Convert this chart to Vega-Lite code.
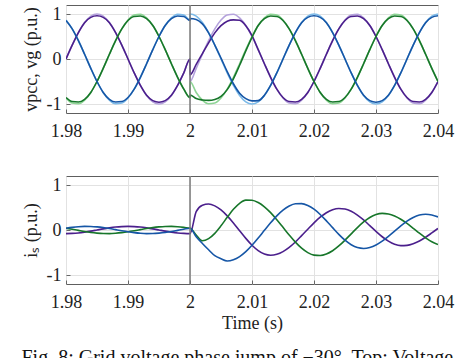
{
"$schema": "https://vega.github.io/schema/vega-lite/v6.json",
"padding": {"left": 21, "top": 3, "right": 0, "bottom": 0},
"background": "white",
"config": {
 "view": {"stroke": "#5e5e5e", "strokeWidth": 1},
 "font": "Liberation Serif",
 "axis": {"labelFont": "Liberation Serif", "labelFontSize": 18, "labelColor": "#222", "labelFlush": false, "titleFont": "Liberation Serif", "titleFontSize": 18, "titleFontWeight": "normal", "titleColor": "#222", "domain": false, "grid": true, "gridColor": "#e2e2e2", "tickColor": "#666", "tickSize": -4}
},
"datasets": {"w": [
{"t":1.980,"o":0,"ga":0,"gb":-0.866,"gc":0.866,"pa":0,"pb":-0.855,"pc":0.855,"ia":-0.08,"ib":0.04,"ic":0.04},
{"t":1.981,"o":1,"ga":0.309,"gb":-0.978,"gc":0.669,"pa":0.309,"pb":-0.945,"pc":0.669,"ia":-0.076,"ib":0.017,"ic":0.059},
{"t":1.982,"o":2,"ga":0.588,"gb":-0.995,"gc":0.407,"pa":0.588,"pb":-0.955,"pc":0.407,"ia":-0.065,"ib":-0.008,"ic":0.073},
{"t":1.983,"o":3,"ga":0.809,"gb":-0.914,"gc":0.105,"pa":0.807,"pb":-0.895,"pc":0.105,"ia":-0.047,"ib":-0.033,"ic":0.08},
{"t":1.984,"o":4,"ga":0.951,"gb":-0.743,"gc":-0.208,"pa":0.925,"pb":-0.743,"pc":-0.208,"ia":-0.025,"ib":-0.054,"ic":0.078},
{"t":1.985,"o":5,"ga":1,"gb":-0.5,"gc":-0.5,"pa":0.96,"pb":-0.5,"pc":-0.5,"ia":0,"ib":-0.069,"ic":0.069},
{"t":1.986,"o":6,"ga":0.951,"gb":-0.208,"gc":-0.743,"pa":0.925,"pb":-0.208,"pc":-0.743,"ia":0.025,"ib":-0.078,"ic":0.054},
{"t":1.987,"o":7,"ga":0.809,"gb":0.105,"gc":-0.914,"pa":0.807,"pb":0.105,"pc":-0.895,"ia":0.047,"ib":-0.08,"ic":0.033},
{"t":1.988,"o":8,"ga":0.588,"gb":0.407,"gc":-0.995,"pa":0.588,"pb":0.407,"pc":-0.955,"ia":0.065,"ib":-0.073,"ic":0.008},
{"t":1.989,"o":9,"ga":0.309,"gb":0.669,"gc":-0.978,"pa":0.309,"pb":0.669,"pc":-0.945,"ia":0.076,"ib":-0.059,"ic":-0.017},
{"t":1.990,"o":10,"ga":0,"gb":0.866,"gc":-0.866,"pa":0,"pb":0.855,"pc":-0.855,"ia":0.08,"ib":-0.04,"ic":-0.04},
{"t":1.991,"o":11,"ga":-0.309,"gb":0.978,"gc":-0.669,"pa":-0.309,"pb":0.945,"pc":-0.669,"ia":0.076,"ib":-0.017,"ic":-0.059},
{"t":1.992,"o":12,"ga":-0.588,"gb":0.995,"gc":-0.407,"pa":-0.588,"pb":0.955,"pc":-0.407,"ia":0.065,"ib":0.008,"ic":-0.073},
{"t":1.993,"o":13,"ga":-0.809,"gb":0.914,"gc":-0.105,"pa":-0.807,"pb":0.895,"pc":-0.105,"ia":0.047,"ib":0.033,"ic":-0.08},
{"t":1.994,"o":14,"ga":-0.951,"gb":0.743,"gc":0.208,"pa":-0.925,"pb":0.743,"pc":0.208,"ia":0.025,"ib":0.054,"ic":-0.078},
{"t":1.995,"o":15,"ga":-1,"gb":0.5,"gc":0.5,"pa":-0.96,"pb":0.5,"pc":0.5,"ia":0,"ib":0.069,"ic":-0.069},
{"t":1.996,"o":16,"ga":-0.951,"gb":0.208,"gc":0.743,"pa":-0.925,"pb":0.208,"pc":0.743,"ia":-0.025,"ib":0.078,"ic":-0.054},
{"t":1.997,"o":17,"ga":-0.809,"gb":-0.105,"gc":0.914,"pa":-0.807,"pb":-0.105,"pc":0.895,"ia":-0.047,"ib":0.08,"ic":-0.033},
{"t":1.998,"o":18,"ga":-0.588,"gb":-0.407,"gc":0.995,"pa":-0.588,"pb":-0.407,"pc":0.955,"ia":-0.065,"ib":0.073,"ic":-0.008},
{"t":1.999,"o":19,"ga":-0.309,"gb":-0.669,"gc":0.978,"pa":-0.309,"pb":-0.669,"pc":0.945,"ia":-0.076,"ib":0.059,"ic":0.017},
{"t":2.000,"o":20,"ga":0,"gb":-0.866,"gc":0.866,"pa":0,"pb":-0.855,"pc":0.855,"ia":-0.08,"ib":0.04,"ic":0.04},
{"t":2.00001,"o":21,"ga":-0.5,"gb":-0.5,"gc":1,"pa":-0.35,"pb":-0.8,"pc":0.9,"ia":-0.08,"ib":0.04,"ic":0.04},
{"t":2.001,"o":22,"ga":-0.208,"gb":-0.743,"gc":0.951,"pa":-0.12,"pb":-0.88,"pc":0.88,"ia":0.41,"ib":-0.111,"ic":-0.15},
{"t":2.002,"o":23,"ga":0.105,"gb":-0.914,"gc":0.809,"pa":0.12,"pb":-0.91,"pc":0.78,"ia":0.55,"ib":-0.24,"ic":-0.30},
{"t":2.003,"o":24,"ga":0.407,"gb":-0.995,"gc":0.588,"pa":0.36,"pb":-0.92,"pc":0.58,"ia":0.578,"ib":-0.193,"ic":-0.44},
{"t":2.004,"o":25,"ga":0.669,"gb":-0.978,"gc":0.309,"pa":0.58,"pb":-0.9,"pc":0.31,"ia":0.536,"ib":-0.075,"ic":-0.57},
{"t":2.005,"o":26,"ga":0.866,"gb":-0.866,"gc":0,"pa":0.74,"pb":-0.83,"pc":0.02,"ia":0.446,"ib":0.093,"ic":-0.64},
{"t":2.006,"o":27,"ga":0.978,"gb":-0.669,"gc":-0.309,"pa":0.84,"pb":-0.68,"pc":-0.28,"ia":0.314,"ib":0.281,"ic":-0.69},
{"t":2.007,"o":28,"ga":0.995,"gb":-0.407,"gc":-0.588,"pa":0.87,"pb":-0.44,"pc":-0.55,"ia":0.157,"ib":0.459,"ic":-0.662},
{"t":2.008,"o":29,"ga":0.914,"gb":-0.105,"gc":-0.809,"pa":0.86,"pb":-0.14,"pc":-0.76,"ia":-0.016,"ib":0.594,"ic":-0.591},
{"t":2.009,"o":30,"ga":0.743,"gb":0.208,"gc":-0.951,"pa":0.74,"pb":0.18,"pc":-0.88,"ia":-0.186,"ib":0.664,"ic":-0.481},
{"t":2.010,"o":31,"ga":0.5,"gb":0.5,"gc":-1,"pa":0.52,"pb":0.48,"pc":-0.93,"ia":-0.338,"ib":0.661,"ic":-0.339},
{"t":2.011,"o":32,"ga":0.208,"gb":0.743,"gc":-0.951,"pa":0.208,"pb":0.743,"pc":-0.925,"ia":-0.457,"ib":0.61,"ic":-0.178},
{"t":2.012,"o":33,"ga":-0.105,"gb":0.914,"gc":-0.809,"pa":-0.105,"pb":0.895,"pc":-0.807,"ia":-0.534,"ib":0.515,"ic":-0.008},
{"t":2.013,"o":34,"ga":-0.407,"gb":0.995,"gc":-0.588,"pa":-0.407,"pb":0.955,"pc":-0.588,"ia":-0.56,"ib":0.385,"ic":0.16},
{"t":2.014,"o":35,"ga":-0.669,"gb":0.978,"gc":-0.309,"pa":-0.669,"pb":0.945,"pc":-0.309,"ia":-0.54,"ib":0.228,"ic":0.314},
{"t":2.015,"o":36,"ga":-0.866,"gb":0.866,"gc":0,"pa":-0.855,"pb":0.855,"pc":0,"ia":-0.48,"ib":0.059,"ic":0.44},
{"t":2.016,"o":37,"ga":-0.978,"gb":0.669,"gc":0.309,"pa":-0.945,"pb":0.669,"pc":0.309,"ia":-0.386,"ib":-0.111,"ic":0.532},
{"t":2.017,"o":38,"ga":-0.995,"gb":0.407,"gc":0.588,"pa":-0.955,"pb":0.407,"pc":0.588,"ia":-0.266,"ib":-0.27,"ic":0.582},
{"t":2.018,"o":39,"ga":-0.914,"gb":0.105,"gc":0.809,"pa":-0.895,"pb":0.105,"pc":0.807,"ia":-0.126,"ib":-0.404,"ic":0.586},
{"t":2.019,"o":40,"ga":-0.743,"gb":-0.208,"gc":0.951,"pa":-0.743,"pb":-0.208,"pc":0.925,"ia":0.018,"ib":-0.502,"ic":0.545},
{"t":2.020,"o":41,"ga":-0.5,"gb":-0.5,"gc":1,"pa":-0.5,"pb":-0.5,"pc":0.96,"ia":0.159,"ib":-0.558,"ic":0.462},
{"t":2.021,"o":42,"ga":-0.208,"gb":-0.743,"gc":0.951,"pa":-0.208,"pb":-0.743,"pc":0.925,"ia":0.284,"ib":-0.568,"ic":0.345},
{"t":2.022,"o":43,"ga":0.105,"gb":-0.914,"gc":0.809,"pa":0.105,"pb":-0.895,"pc":0.807,"ia":0.384,"ib":-0.534,"ic":0.203},
{"t":2.023,"o":44,"ga":0.407,"gb":-0.995,"gc":0.588,"pa":0.407,"pb":-0.955,"pc":0.588,"ia":0.451,"ib":-0.461,"ic":0.052},
{"t":2.024,"o":45,"ga":0.669,"gb":-0.978,"gc":0.309,"pa":0.669,"pb":-0.945,"pc":0.309,"ia":0.479,"ib":-0.355,"ic":-0.096},
{"t":2.025,"o":46,"ga":0.866,"gb":-0.866,"gc":0,"pa":0.855,"pb":-0.855,"pc":0,"ia":0.467,"ib":-0.226,"ic":-0.227},
{"t":2.026,"o":47,"ga":0.978,"gb":-0.669,"gc":-0.309,"pa":0.945,"pb":-0.669,"pc":-0.309,"ia":0.416,"ib":-0.086,"ic":-0.328},
{"t":2.027,"o":48,"ga":0.995,"gb":-0.407,"gc":-0.588,"pa":0.955,"pb":-0.407,"pc":-0.588,"ia":0.332,"ib":0.053,"ic":-0.391},
{"t":2.028,"o":49,"ga":0.914,"gb":-0.105,"gc":-0.809,"pa":0.895,"pb":-0.105,"pc":-0.807,"ia":0.223,"ib":0.178,"ic":-0.41},
{"t":2.029,"o":50,"ga":0.743,"gb":0.208,"gc":-0.951,"pa":0.743,"pb":0.208,"pc":-0.925,"ia":0.097,"ib":0.279,"ic":-0.388},
{"t":2.030,"o":51,"ga":0.5,"gb":0.5,"gc":-1,"pa":0.5,"pb":0.5,"pc":-0.96,"ia":-0.031,"ib":0.345,"ic":-0.332},
{"t":2.031,"o":52,"ga":0.208,"gb":0.743,"gc":-0.951,"pa":0.208,"pb":0.743,"pc":-0.925,"ia":-0.15,"ib":0.37,"ic":-0.247},
{"t":2.032,"o":53,"ga":-0.105,"gb":0.914,"gc":-0.809,"pa":-0.105,"pb":0.895,"pc":-0.807,"ia":-0.248,"ib":0.357,"ic":-0.14},
{"t":2.033,"o":54,"ga":-0.407,"gb":0.995,"gc":-0.588,"pa":-0.407,"pb":0.955,"pc":-0.588,"ia":-0.317,"ib":0.312,"ic":-0.024},
{"t":2.034,"o":55,"ga":-0.669,"gb":0.978,"gc":-0.309,"pa":-0.669,"pb":0.945,"pc":-0.309,"ia":-0.348,"ib":0.239,"ic":0.092},
{"t":2.035,"o":56,"ga":-0.866,"gb":0.866,"gc":0,"pa":-0.855,"pb":0.855,"pc":0,"ia":-0.342,"ib":0.145,"ic":0.196},
{"t":2.036,"o":57,"ga":-0.978,"gb":0.669,"gc":0.309,"pa":-0.945,"pb":0.669,"pc":0.309,"ia":-0.306,"ib":0.038,"ic":0.279},
{"t":2.037,"o":58,"ga":-0.995,"gb":0.407,"gc":0.588,"pa":-0.955,"pb":0.407,"pc":0.588,"ia":-0.244,"ib":-0.072,"ic":0.332},
{"t":2.038,"o":59,"ga":-0.914,"gb":0.105,"gc":0.809,"pa":-0.895,"pb":0.105,"pc":0.807,"ia":-0.161,"ib":-0.174,"ic":0.35},
{"t":2.039,"o":60,"ga":-0.743,"gb":-0.208,"gc":0.951,"pa":-0.743,"pb":-0.208,"pc":0.925,"ia":-0.065,"ib":-0.261,"ic":0.335},
{"t":2.040,"o":61,"ga":-0.5,"gb":-0.5,"gc":1,"pa":-0.5,"pb":-0.5,"pc":0.96,"ia":0.035,"ib":-0.323,"ic":0.29}
]},
"spacing": 63,
"bounds": "flush",
"title": {"text": "Fig. 8: Grid voltage phase jump of −30°. Top: Voltage", "orient": "bottom", "anchor": "start", "frame": "bounds", "font": "Liberation Serif", "fontSize": 20, "fontWeight": "normal", "color": "#111", "offset": 15},
"vconcat": [
 {
  "width": 372, "height": 108,
  "layer": [
   {"data": {"name": "w"},
    "transform": [{"fold": ["ga", "gb", "gc"], "as": ["s", "v"]}],
    "mark": {"type": "line", "strokeWidth": 1.6, "interpolate": "monotone", "clip": true},
    "encoding": {
     "x": {"field": "t", "type": "quantitative", "scale": {"domain": [1.98, 2.04], "nice": false, "zero": false},
           "axis": {"values": [1.98, 1.99, 2, 2.01, 2.02, 2.03, 2.04], "format": "~g", "title": null, "labelPadding": 13.5}},
     "y": {"field": "v", "type": "quantitative", "scale": {"domain": [-1.2, 1.2], "nice": false},
           "axis": {"values": [-1, 0, 1], "labelExpr": "replace(datum.label, '−', '-')", "title": "vpcc, vg (p.u.)", "labelPadding": 9, "titleX": -35, "titleBaseline": "middle"}},
     "color": {"field": "s", "type": "nominal", "scale": {"domain": ["ga", "gb", "gc"], "range": ["#b5a3dc", "#8fd596", "#7dbbe9"]}, "legend": null},
     "order": {"field": "o", "type": "quantitative"}
    }},
   {"data": {"name": "w"},
    "transform": [{"fold": ["pa", "pb", "pc"], "as": ["s", "v"]}],
    "mark": {"type": "line", "strokeWidth": 1.6, "interpolate": "monotone", "clip": true},
    "encoding": {
     "x": {"field": "t", "type": "quantitative"},
     "y": {"field": "v", "type": "quantitative"},
     "color": {"field": "s", "type": "nominal", "scale": {"domain": ["pa", "pb", "pc"], "range": ["#4b1f8c", "#17762a", "#1656a6"]}, "legend": null},
     "order": {"field": "o", "type": "quantitative"}
    }},
   {"data": {"values": [{}]},
    "mark": {"type": "rule", "color": "#7a7a7a", "strokeWidth": 1.5},
    "encoding": {"x": {"datum": 2}}}
  ],
  "resolve": {"scale": {"color": "independent"}}
 },
 {
  "width": 372, "height": 108,
  "layer": [
   {"data": {"name": "w"},
    "transform": [{"fold": ["ia", "ib", "ic"], "as": ["s", "v"]}],
    "mark": {"type": "line", "strokeWidth": 1.6, "interpolate": "monotone", "clip": true},
    "encoding": {
     "x": {"field": "t", "type": "quantitative", "scale": {"domain": [1.98, 2.04], "nice": false, "zero": false},
           "axis": {"values": [1.98, 1.99, 2, 2.01, 2.02, 2.03, 2.04], "format": "~g", "title": "Time (s)", "labelPadding": 13.5, "titlePadding": 3}},
     "y": {"field": "v", "type": "quantitative", "scale": {"domain": [-1.2, 1.2], "nice": false},
           "axis": {"values": [-1, 0, 1], "labelExpr": "replace(datum.label, '−', '-')", "title": "iₛ (p.u.)", "labelPadding": 9, "titleX": -35, "titleBaseline": "middle"}},
     "color": {"field": "s", "type": "nominal", "scale": {"domain": ["ia", "ib", "ic"], "range": ["#4b1f8c", "#17762a", "#1656a6"]}, "legend": null},
     "order": {"field": "o", "type": "quantitative"}
    }},
   {"data": {"values": [{}]},
    "mark": {"type": "rule", "color": "#7a7a7a", "strokeWidth": 1.5},
    "encoding": {"x": {"datum": 2}}}
  ]
 }
]
}
